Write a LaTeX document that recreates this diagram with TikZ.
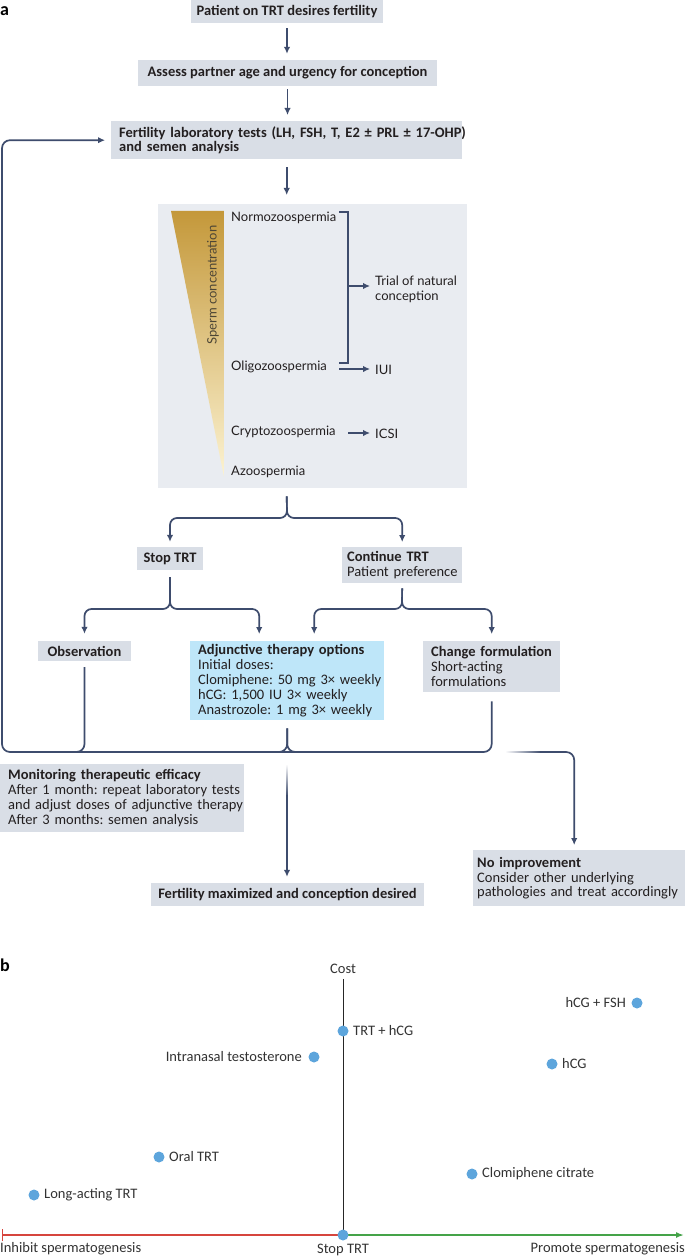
\documentclass[tikz,border=0pt]{standalone}
\usepackage{fontspec}
\setmainfont{Carlito}
\newfontfamily\latof{Lato}
\usetikzlibrary{arrows.meta,calc}
\frenchspacing
\definecolor{boxgray}{HTML}{D9DEE6}
\definecolor{boxlight}{HTML}{E9ECF1}
\definecolor{boxblue}{HTML}{BEE6F9}
\definecolor{linec}{HTML}{3E4C6D}
\definecolor{txt}{HTML}{231F20}
\definecolor{labc}{HTML}{333333}
\definecolor{dotc}{HTML}{5DA5DC}
\definecolor{redax}{HTML}{D6453D}
\definecolor{greenax}{HTML}{45A349}
\definecolor{goldtop}{HTML}{C4983A}
\definecolor{goldmid}{HTML}{E9C35A}
\definecolor{goldbot}{HTML}{FCF3D2}
\definecolor{sctext}{HTML}{4D4636}
\tikzset{
  fr/.style={font=\fontsize{14.5}{14.8}\selectfont\frenchspacing, text=txt},
  fb/.style={font=\fontsize{14.5}{14.8}\selectfont\bfseries\frenchspacing, text=txt},
  gbox/.style={fill=boxgray, inner sep=0pt},
  lbox/.style={fill=boxgray, inner ysep=0pt, anchor=north west, align=left, fr},
  tz/.style={font=\latof\fontsize{13}{15}\selectfont, inner sep=0pt, text=txt},
  lab/.style={font=\fontsize{14.5}{16}\selectfont, inner sep=0pt, text=labc},
  ln/.style={draw=linec, line width=1.7pt},
  arr/.style={draw=linec, line width=1.7pt, -{Latex[length=7pt,width=6.5pt]}},
  dot/.style={circle, fill=dotc, minimum size=11pt, inner sep=0pt},
  panel/.style={font=\fontsize{18}{20}\selectfont\bfseries, inner sep=0pt, text=black}
}
\begin{document}
\begin{tikzpicture}[x=1pt,y=-1pt]
\path[use as bounding box, fill=white] (0,0) rectangle (685,1257);

% panel label
\node[panel, anchor=west] (pa) at (0,11) {a};

% top boxes
\node[gbox, fb, minimum width=192pt, minimum height=23pt] (b1) at (287,11.5) {Patient on TRT desires fertility};
\node[gbox, fb, minimum width=299pt, minimum height=26pt] (b2) at (287.5,73) {Assess partner age and urgency for conception};
\node[lbox, fb, text width=335pt, inner xsep=8pt, minimum height=38pt] (b3) at (111,121) {\mbox{Fertility laboratory tests (LH, FSH, T, E2 ± PRL ± 17-OHP)}\\and semen analysis};

\draw[arr, shorten <=5pt, shorten >=6pt] (b1.south) -- (b1.south |- b2.north);
\draw[arr, shorten <=3pt, shorten >=6pt] (b2.south) -- (b2.south |- b3.north);

% triangle box
\node[fill=boxlight, anchor=north west, minimum width=309pt, minimum height=284pt, inner sep=0pt] (tri) at (158,204) {};
\draw[arr, shorten <=8pt, shorten >=9pt] (b3.south) -- (b3.south |- tri.north);

\shade[top color=goldtop, middle color=goldmid, bottom color=goldbot] (171,211) -- (224,211) -- (224,477) -- cycle;
\node[font=\latof\fontsize{13}{15}\selectfont, text=sctext, rotate=90, inner sep=0pt] (sc) at (213,285) {Sperm concentration};

\node[tz, anchor=west] (normo) at (231,218) {Normozoospermia};
\node[tz, anchor=west] (oligo) at (231,367) {Oligozoospermia};
\node[tz, anchor=west] (crypto) at (231,432) {Cryptozoospermia};
\node[tz, anchor=west] (azoo) at (231,472) {Azoospermia};
\node[tz, anchor=west, align=left] (tnc) at (375,289.5) {Trial of natural\\conception};
\node[tz, anchor=west] (iui) at (375,370) {IUI};
\node[tz, anchor=west] (icsi) at (375,434) {ICSI};

\draw[ln] (339,212) -| (348,363) -- (339,363);
\coordinate (bm) at (348,286);
\draw[arr, shorten >=5pt] (bm) -- (bm -| tnc.west);
\draw[arr, shorten >=5pt] (339,369) -- (iui.west |- 0,369);
\draw[arr, shorten >=5pt] (348,433) -- (icsi.west |- 0,433);

% stop / continue
\node[gbox, fb, minimum width=66pt, minimum height=23pt] (stop) at (170,558.5) {Stop TRT};
\node[lbox, text width=110pt, inner xsep=5pt, minimum height=36pt] (cont) at (342,547) {\textbf{Continue TRT}\\\mbox{Patient preference}};

\coordinate (s1) at (287,518);
\draw[arr, rounded corners=7pt, shorten <=8pt, shorten >=5pt] (b3.south |- tri.south) -- (s1) -| (stop.north);
\draw[arr, rounded corners=7pt, shorten <=8pt, shorten >=5pt] (b3.south |- tri.south) -- (s1) -| (cont.north);

% third row
\node[gbox, fb, minimum width=93pt, minimum height=20pt] (obs) at (84.5,651) {Observation};
\node[lbox, fill=boxblue, text width=178pt, inner xsep=8pt, minimum height=79pt] (adj) at (190,641) {\textbf{Adjunctive therapy options}\\Initial doses:\\\mbox{Clomiphene: 50 mg 3× weekly}\\\mbox{hCG: 1,500 IU 3× weekly}\\\mbox{Anastrozole: 1 mg 3× weekly}};
\node[lbox, text width=121pt, inner xsep=8pt, minimum height=51pt] (chg) at (423,641) {\mbox{\textbf{Change formulation}}\\Short-acting\\formulations};

\coordinate (s2) at (170,609);
\coordinate (s3) at (402,609);
\draw[arr, rounded corners=7pt, shorten <=7pt, shorten >=7pt] (stop.south) -- (s2) -| (obs.north);
\draw[arr, rounded corners=7pt, shorten <=7pt, shorten >=7pt] (stop.south) -- (s2) -| ($(adj.north)+(-28,0)$);
\draw[arr, rounded corners=7pt, shorten <=5pt, shorten >=7pt] (cont.south) -- (s3) -| ($(adj.north)+(27,0)$);
\draw[arr, rounded corners=7pt, shorten <=5pt, shorten >=7pt] (cont.south) -- (s3) -| (chg.north);

% feedback bus
\coordinate (bl) at (2,752);
\draw[arr, rounded corners=8pt, shorten <=9pt, shorten >=6pt] (chg.south) |- (bl) |- (b3.west);
\draw[ln, rounded corners=8pt, shorten <=6pt] (obs.south) |- (50,752);
\draw[ln, rounded corners=8pt, shorten <=8pt] (adj.south) |- (255,752);
\draw[ln, rounded corners=8pt, shorten <=8pt] (adj.south) |- (320,752);

% bottom boxes
\node[lbox, text width=228pt, inner xsep=8pt, minimum height=68pt] (mon) at (0,764) {\mbox{\textbf{Monitoring therapeutic efficacy}}\\\mbox{After 1 month: repeat laboratory tests}\\\mbox{and adjust doses of adjunctive therapy}\\\mbox{After 3 months: semen analysis}};
\node[gbox, fb, minimum width=273pt, minimum height=23pt] (fert) at (287.5,894.5) {Fertility maximized and conception desired};
\node[lbox, text width=204pt, inner xsep=4pt, minimum height=56pt] (noimp) at (473,850) {\textbf{No improvement}\\\mbox{Consider other underlying}\\\mbox{pathologies and treat accordingly}};

\shade[top color=white, bottom color=linec] (286.15,764) rectangle (287.85,796);
\coordinate (fa) at (287,795);
\draw[arr, shorten >=6pt] (fa) -- (fa |- fert.north);
\shade[left color=white, right color=linec] (505,751.15) rectangle (541,752.85);
\coordinate (na) at (540,752);
\draw[arr, rounded corners=8pt, shorten >=5pt] (na) -| ($(noimp.north)+(-5,0)$);

% panel b
\node[panel, anchor=west] (pb) at (0,965) {b};
\node[lab] (cost) at (343,969) {Cost};
\coordinate (st) at (343,1235);
\draw[black!85, line width=0.9pt, shorten <=5pt] (cost.south) -- (st);
\draw[redax, line width=1.8pt, {Bar[width=12pt,line width=1.2pt]}-] (2,1235) -- (st);
\draw[greenax, line width=1.8pt, -{Latex[length=8pt,width=6pt]}] (st) -- (684,1235);
\node[dot] (dst) at (st) {};

\node[dot] (d1) at (637,1003) {};
\node[dot] (d2) at (343,1031) {};
\node[dot] (d3) at (314,1057) {};
\node[dot] (d4) at (552,1064) {};
\node[dot] (d5) at (159,1157) {};
\node[dot] (d6) at (472,1174) {};
\node[dot] (d7) at (34,1195) {};

\node[lab, anchor=east] (l1) at (626,1003) {hCG + FSH};
\node[lab, anchor=west] (l2) at (353,1031) {TRT + hCG};
\node[lab, anchor=east] (l3) at (302,1057) {Intranasal testosterone};
\node[lab, anchor=west] (l4) at (562,1064) {hCG};
\node[lab, anchor=west] (l5) at (169,1157) {Oral TRT};
\node[lab, anchor=west] (l6) at (482,1174) {Clomiphene citrate};
\node[lab, anchor=west] (l7) at (44,1195) {Long-acting TRT};

\node[lab] (lst) at (343,1250) {Stop TRT};
\node[lab, anchor=west] (linh) at (0,1249) {Inhibit spermatogenesis};
\node[lab, anchor=east] (lpro) at (685,1249) {Promote spermatogenesis};
\end{tikzpicture}
\end{document}
